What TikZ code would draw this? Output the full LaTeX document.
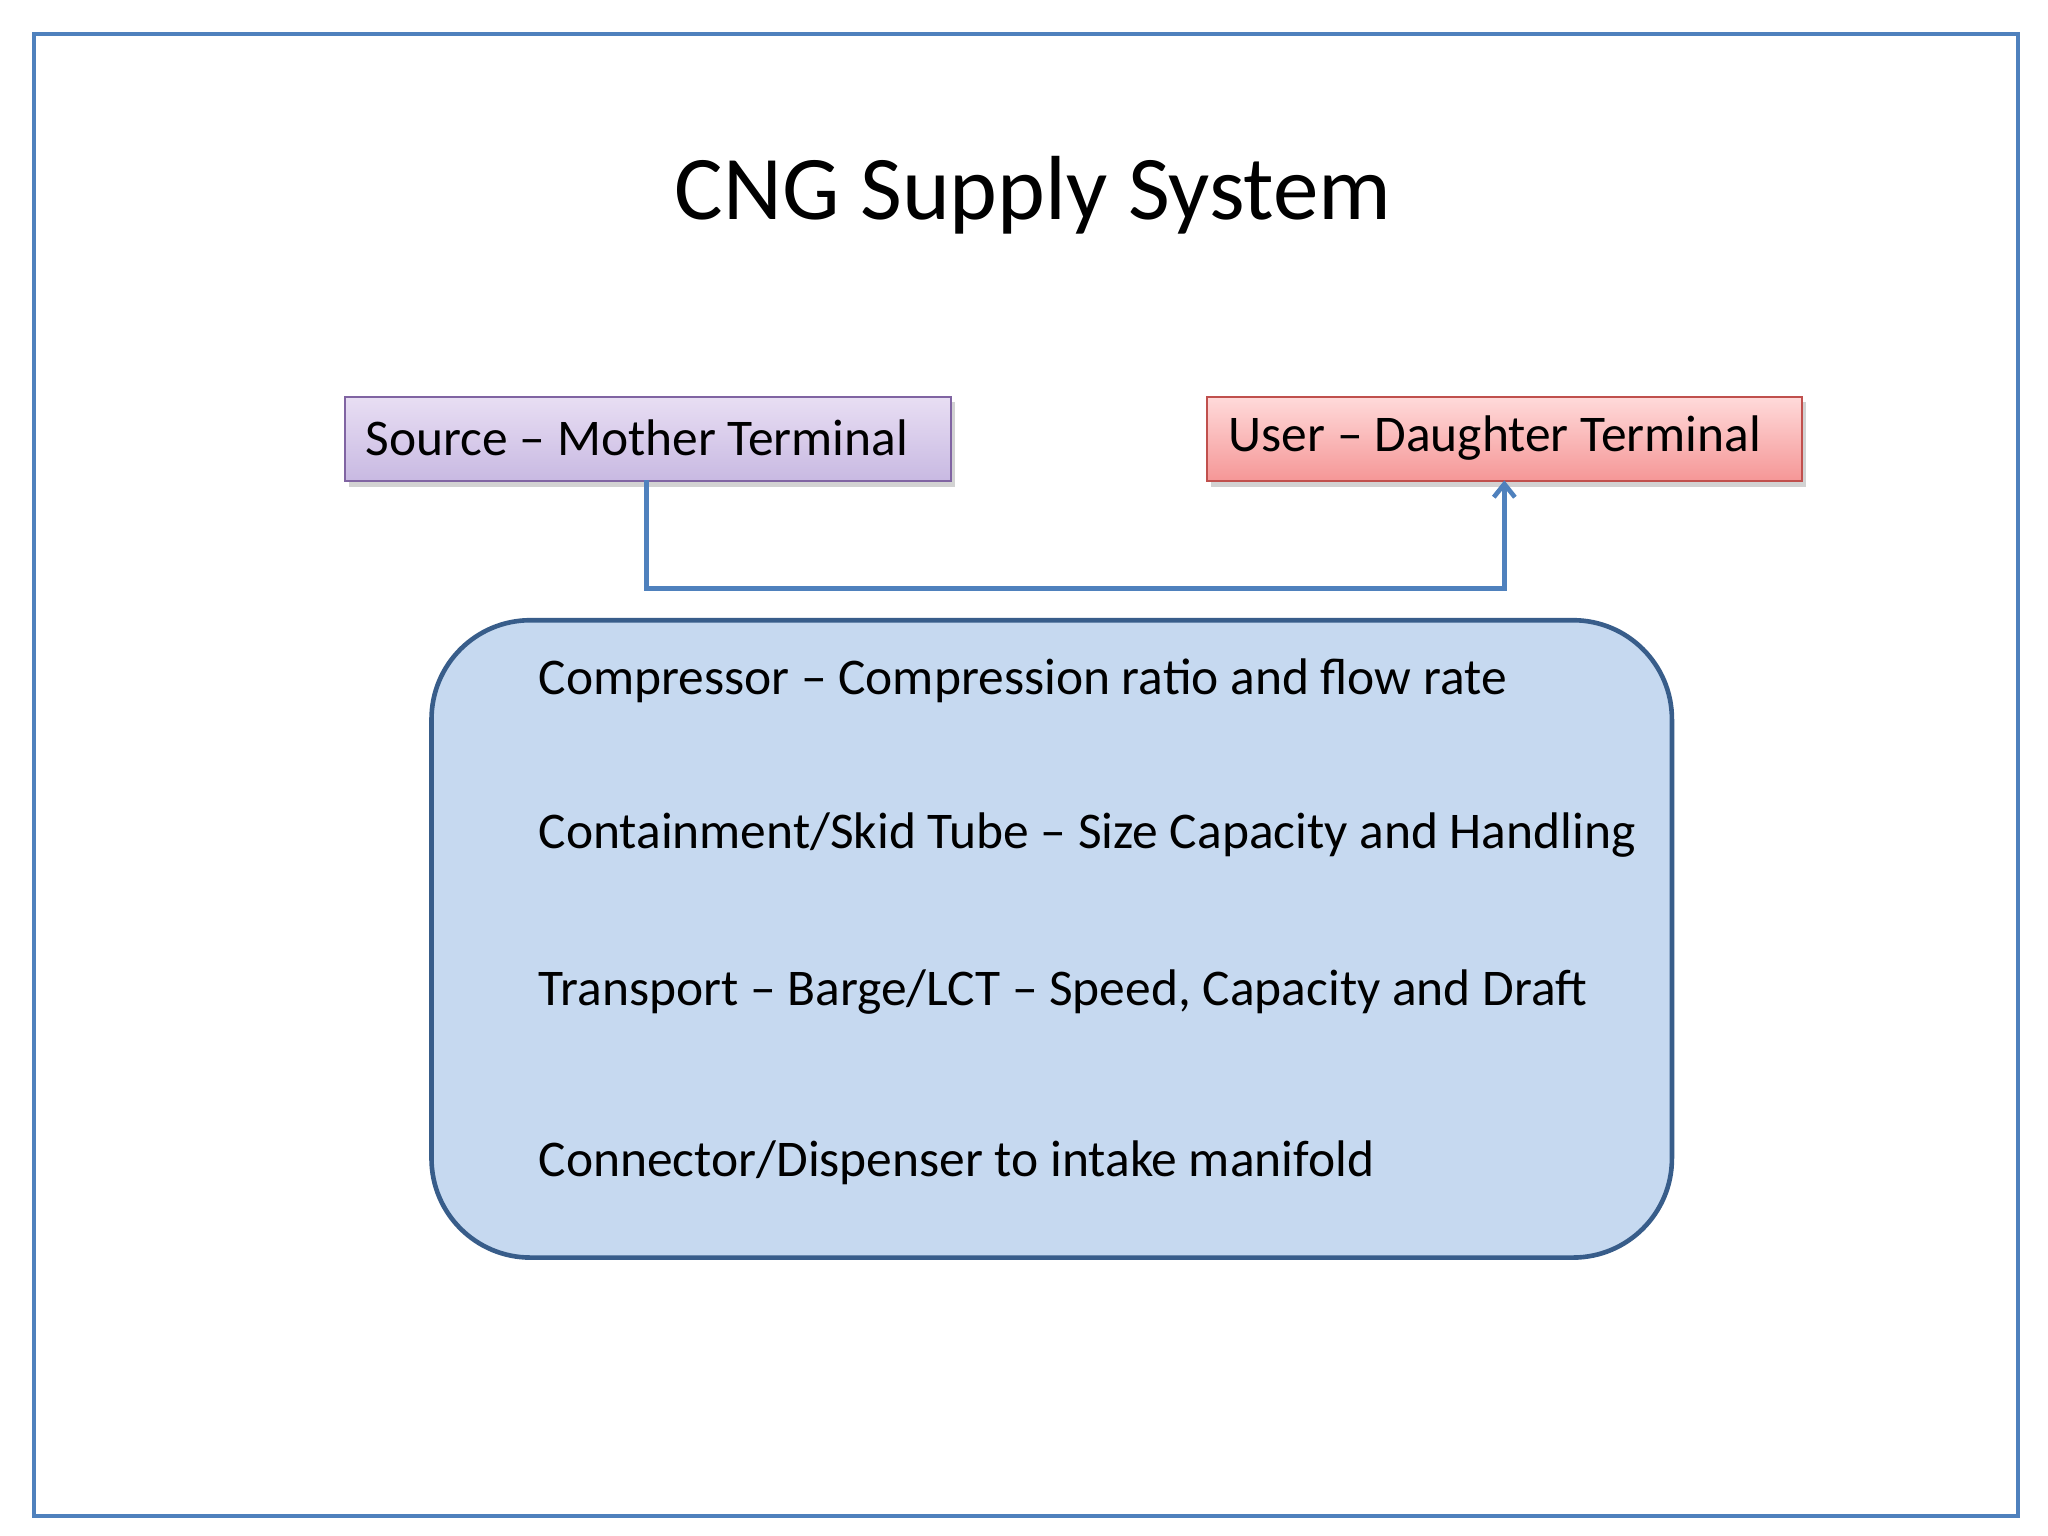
\documentclass[tikz,border=0pt]{standalone}
\usepackage{fontspec}
\setmainfont{Carlito}
\usetikzlibrary{arrows.meta,shadows}
\definecolor{frameblue}{RGB}{79,129,189}
\definecolor{srcborder}{RGB}{128,100,162}
\definecolor{usrborder}{RGB}{192,80,77}
\definecolor{boxfill}{RGB}{198,217,240}
\definecolor{boxborder}{RGB}{56,93,138}
\tikzset{
  termbox/.style={draw, line width=1.5pt, minimum height=64pt, inner sep=0pt, anchor=north west, drop shadow={shadow xshift=3pt, shadow yshift=-4pt, fill=black!35, opacity=0.5}},
  bigtext/.style={font=\fontsize{39}{46}\selectfont, inner sep=0pt},
  itemtext/.style={anchor=west, font=\fontsize{39}{46}\selectfont, inner sep=0pt},
  link/.style={draw=frameblue, line width=3.5pt}
}
\begin{document}
\begin{tikzpicture}[x=1pt,y=-1pt]
\useasboundingbox (0,0) rectangle (1552,1164);
\fill[white] (0,0) rectangle (1552,1164);
\draw[frameblue, line width=3pt] (26,26) rectangle (1529,1149);
\node[font=\fontsize{69}{80}\selectfont] (title) at (783,148) {CNG Supply System};
\node[termbox, draw=srcborder, minimum width=459pt, top color={rgb,255:red,232;green,222;blue,243}, bottom color={rgb,255:red,200;green,185;blue,226}] (src) at (261,300) {};
\node[bigtext, anchor=west] (srct) at (277,332) {Source – Mother Terminal};
\node[termbox, draw=usrborder, minimum width=451pt, top color={rgb,255:red,255;green,218;blue,218}, bottom color={rgb,255:red,245;green,150;blue,150}] (usr) at (914,300) {};
\node[bigtext, anchor=west] (usrt) at (931,332) {User – Daughter Terminal};
\coordinate (s) at (490,364);
\coordinate (u) at (1140,364);
\draw[link, -{Straight Barb[length=10pt,width=16pt]}] (s) -- (490,446) -- (1140,446) -- (u);
\draw[draw=boxborder, fill=boxfill, line width=3.5pt, rounded corners=75pt] (327,470) rectangle (1267,953);
\node[itemtext] (i1) at (408,516) {Compressor – Compression ratio and flow rate};
\node[itemtext] (i2) at (408,633) {Containment/Skid Tube – Size Capacity and Handling};
\node[itemtext] (i3) at (408,752) {Transport – Barge/LCT – Speed, Capacity and Draft};
\node[itemtext] (i4) at (408,881) {Connector/Dispenser to intake manifold};
\end{tikzpicture}
\end{document}
